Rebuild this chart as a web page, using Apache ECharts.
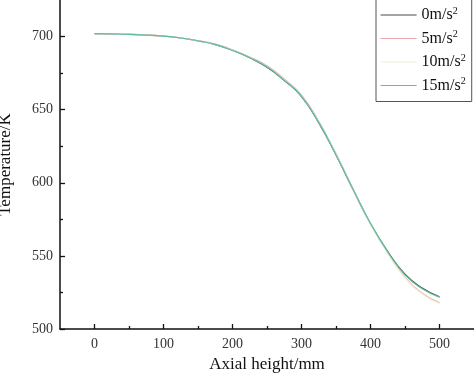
<!DOCTYPE html>
<html>
<head>
<meta charset="utf-8">
<script src="https://cdn.jsdelivr.net/npm/echarts@6/dist/echarts.min.js"></script>
<style>
  html, body { margin: 0; padding: 0; background: #fff; }
  #chart { width: 474px; height: 378px; }
</style>
</head>
<body>
<div id="chart"></div>
<script>
// axial height (mm)
const heights = [0, 25, 50, 75, 100, 125, 150, 175, 200, 225, 250, 275, 300, 325, 350, 375, 400, 425, 450, 475, 500];

// temperature (K) for each acceleration
const temp0 = [702, 701.8, 701.5, 701, 700.3, 699, 697, 694.5, 690.5, 685.5, 679, 670, 659, 641, 619, 595, 572, 553, 537.5, 528, 522];
const temp5 = [702, 701.8, 701.5, 701, 700.4, 699.1, 697.2, 694.8, 691, 686, 680, 671, 660, 642, 620, 595.5, 572, 552, 535.5, 524.5, 518];
const temp10 = [702, 701.8, 701.5, 701, 700.3, 699, 697, 694.6, 690.7, 685.8, 679.5, 670.5, 659.5, 641.5, 619.5, 595, 571.5, 551.5, 535, 524, 517.5];
const temp15 = [702, 701.8, 701.5, 701, 700.3, 699, 697.1, 694.6, 690.6, 685.7, 679.3, 670.2, 659.3, 641.3, 619.2, 595.2, 572.2, 552.8, 537, 527.5, 521.8];

const seriesNames = ['0m/s{sup|2}', '5m/s{sup|2}', '10m/s{sup|2}', '15m/s{sup|2}'];
const seriesColors = ['#4a4a4a', '#e9aaaa', '#efeed6', '#5cbf9f'];

// tick positions
const xMajor = [0, 100, 200, 300, 400, 500];
const xMinor = [50, 150, 250, 350, 450];
const yMajor = [500, 550, 600, 650, 700];
const yMinor = [525, 575, 625, 675];

const chart = echarts.init(document.getElementById('chart'));

const font = 'Liberation Serif';
const allTemps = [temp0, temp5, temp10, temp15];

const option = {
  animation: false,
  grid: { left: 60, right: 0, top: 0, bottom: 49, outerBoundsMode: 'none', containLabel: false },
  legend: {
    orient: 'vertical',
    left: 376,
    top: -2,
    width: 94,
    padding: [8, 6, 8, 4],
    itemGap: 6.5,
    itemWidth: 36,
    itemHeight: 16,
    backgroundColor: '#fff',
    borderColor: '#555',
    borderWidth: 1,
    itemStyle: { opacity: 0 },
    lineStyle: { width: 1.2 },
    data: seriesNames,
    formatter: name => name,
    textStyle: {
      fontFamily: font,
      fontSize: 16,
      color: '#111',
      lineHeight: 16,
      rich: {
        sup: { fontFamily: font, fontSize: 10, color: '#111', padding: [0, 0, 8, 0] }
      }
    }
  },
  xAxis: [
    {
      type: 'value',
      min: -50,
      max: 550,
      name: 'Axial height/mm',
      nameLocation: 'middle',
      nameGap: 27,
      nameTextStyle: { fontFamily: font, fontSize: 17, color: '#111' },
      axisLine: { onZero: false, lineStyle: { color: '#111', width: 1.5 } },
      axisTick: { inside: true, length: 5, lineStyle: { color: '#111', width: 1.3 }, customValues: xMajor },
      axisLabel: { customValues: xMajor, fontFamily: font, fontSize: 14, color: '#333', margin: 8 },
      splitLine: { show: false }
    },
    {
      type: 'value',
      min: -50,
      max: 550,
      position: 'bottom',
      axisLine: { show: false, onZero: false },
      axisTick: { inside: true, length: 3, lineStyle: { color: '#111', width: 1.3 }, customValues: xMinor },
      axisLabel: { show: false },
      splitLine: { show: false }
    }
  ],
  yAxis: [
    {
      type: 'value',
      min: 500,
      max: 725,
      name: 'Temperature/K',
      nameLocation: 'middle',
      nameGap: 46,
      nameTextStyle: { fontFamily: font, fontSize: 17, color: '#111' },
      axisLine: { show: true, onZero: false, lineStyle: { color: '#111', width: 1.5 } },
      axisTick: { show: true, inside: true, length: 5, lineStyle: { color: '#111', width: 1.3 }, customValues: yMajor },
      axisLabel: { customValues: yMajor, fontFamily: font, fontSize: 14, color: '#333', margin: 7 },
      splitLine: { show: false }
    },
    {
      type: 'value',
      min: 500,
      max: 725,
      position: 'left',
      offset: 0,
      axisLine: { show: false, onZero: false },
      axisTick: { show: true, inside: true, length: 3, lineStyle: { color: '#111', width: 1.3 }, customValues: yMinor },
      axisLabel: { show: false },
      splitLine: { show: false }
    }
  ],
  series: seriesNames.map((name, i) => ({
    name: name,
    type: 'line',
    smooth: true,
    symbol: 'none',
    color: seriesColors[i],
    lineStyle: { width: 1.2, color: seriesColors[i] },
    data: heights.map((h, j) => [h, allTemps[i][j]])
  }))
};

chart.setOption(option);
</script>
</body>
</html>
